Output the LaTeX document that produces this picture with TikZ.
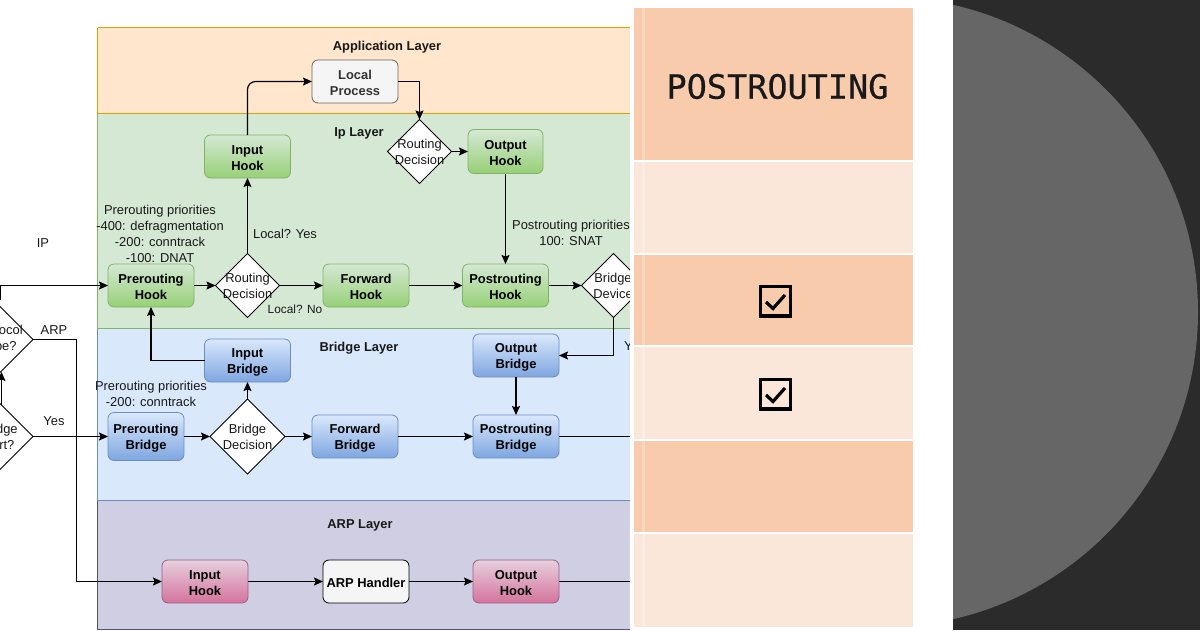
\documentclass[tikz,border=0pt]{standalone}
\usepackage{fontspec}
\setmainfont{Liberation Sans}
\newfontfamily\panelmono[FakeBold=0.4]{DejaVu Sans Mono}
\usetikzlibrary{arrows.meta,shapes.geometric}
\newcommand{\tp}{\rule{0pt}{12.5pt}}
\definecolor{rowdark}{HTML}{F8CBAD}
\definecolor{rowlight}{HTML}{FBE6DA}
\definecolor{apfill}{HTML}{FFE6CC}\definecolor{apline}{HTML}{E0A000}
\definecolor{ipfill}{HTML}{D5E8D4}\definecolor{ipline}{HTML}{82B366}
\definecolor{brfill}{HTML}{DAE8FC}\definecolor{brline}{HTML}{6C8EBF}
\definecolor{arfill}{HTML}{D0CEE2}\definecolor{arline}{HTML}{56517E}
\definecolor{greenend}{HTML}{97D077}
\definecolor{blueend}{HTML}{7EA6E0}
\definecolor{pinktop}{HTML}{E6D0DE}\definecolor{pinkend}{HTML}{D5739D}\definecolor{pinkline}{HTML}{996185}
\definecolor{plainfill}{HTML}{F5F5F5}\definecolor{plainline}{HTML}{666666}\definecolor{plaintext}{HTML}{333333}
\definecolor{darkbg}{HTML}{2B2B2B}\definecolor{discgrey}{HTML}{666666}
\tikzset{
  layerbox/.style={line width=1pt},
  boxbase/.style={rectangle,rounded corners=6pt,line width=0.8pt,align=center,inner sep=0pt,outer sep=0pt,
     font=\fontsize{12.9}{16}\selectfont\bfseries,minimum width=86pt,minimum height=43pt},
  greenbox/.style={boxbase,draw=ipline,top color=ipfill,bottom color=greenend},
  bluebox/.style={boxbase,draw=brline,top color=brfill,bottom color=blueend},
  pinkbox/.style={boxbase,draw=pinkline,top color=pinktop,bottom color=pinkend},
  plainbox/.style={boxbase,fill=plainfill},
  decide/.style={diamond,aspect=1,draw=black,fill=white,line width=0.8pt,inner sep=0pt,outer sep=0pt,minimum width=#1,minimum height=#1},
  decide/.default=64pt,
  words/.style={align=center,inner sep=0pt,font=\fontsize{12.9}{16}\selectfont,text=black!90},
  headword/.style={words,font=\fontsize{12.9}{16}\selectfont\bfseries},
  link/.style={draw=black,line width=1.2pt,-{Stealth[length=9pt,width=8pt,inset=1.5pt]}},
  linkplain/.style={draw=black,line width=1.2pt},
  tick/.style={draw=black,line width=3.8pt},
}
\begin{document}
\begin{tikzpicture}[x=1pt,y=-1pt]
\useasboundingbox (0,0) rectangle (1200,630);
\clip (0,0) rectangle (1200,630);
\fill[white] (0,0) rectangle (1200,630);
% layers
\fill[apfill] (97.5,27.5) rectangle (660,113.5);
\fill[ipfill] (97.5,113.5) rectangle (660,328.5);
\fill[brfill] (97.5,328.5) rectangle (660,500.5);
\fill[arfill] (97.5,500.5) rectangle (660,629.5);
\draw[arline,layerbox] (97.5,500.5) rectangle (660,629.5);
\draw[brline,layerbox] (97.5,328.5) rectangle (660,500.5);
\draw[ipline,layerbox] (97.5,113.5) rectangle (660,328.5);
\draw[apline,layerbox] (97.5,27.5) -- (660,27.5);
\draw[apline,layerbox] (97.5,27.5) -- (97.5,113.5);
\draw[apline,layerbox] (97.5,113.5) -- (660,113.5);
\node[headword] (tapp) at (387,47) {Application Layer};
\node[headword] (tip) at (359,133) {Ip Layer};
\node[headword] (tbr) at (359,348) {Bridge Layer};
\node[headword] (tarp) at (360,525) {ARP Layer};
% boxes
\node[plainbox,draw=plainline,text=plaintext] (local) at (355,81.5) {\tp Local\\Process};
\node[greenbox] (inhook) at (247.5,156.5) {\tp Input\\Hook};
\node[decide] (rd2) at (419.5,151.5) {};
\node[greenbox,minimum width=75pt,minimum height=44pt] (outhook) at (505.5,151.5) {\tp Output\\Hook};
\node[greenbox] (prehook) at (151,285.5) {\tp Prerouting\\Hook};
\node[decide] (rd1) at (247.5,285.5) {};
\node[greenbox] (fwdhook) at (366,285.5) {\tp Forward\\Hook};
\node[greenbox] (posthook) at (505.5,285.5) {\tp Postrouting\\Hook};
\node[decide] (bdev) at (613.5,285.5) {};
\node[bluebox] (inbr) at (247.5,360.5) {\tp Input\\Bridge};
\node[bluebox] (outbr) at (516,355.5) {\tp Output\\Bridge};
\node[bluebox,minimum width=76pt,minimum height=48pt] (prebr) at (146,436.5) {\tp Prerouting\\Bridge};
\node[decide=75pt] (bd) at (247.5,436.5) {};
\node[bluebox] (fwdbr) at (355,436.5) {\tp Forward\\Bridge};
\node[bluebox] (postbr) at (516,436.5) {\tp Postrouting\\Bridge};
\node[pinkbox] (inarp) at (205,581.5) {\tp Input\\Hook};
\node[plainbox,draw=black] (arph) at (366,581.5) {\tp ARP Handler};
\node[pinkbox] (outarp) at (516,581.5) {\tp Output\\Hook};
\node[decide=76pt] (proto) at (-5,339.5) {};
\node[decide=76pt] (bport) at (-5,436.5) {};
% free ends
\coordinate (ipstart) at (0.5,300);
\coordinate (ipturn) at (0.5,285.5);
\coordinate (arpA) at (76.5,339.5);
\coordinate (arpB) at (76.5,581.5);
\coordinate (upfrom) at (1.5,405);
\coordinate (upto) at (1.5,372);
\coordinate (rightA) at (640,436.5);
\coordinate (rightB) at (640,581.5);
% connectors
\draw[link] (ipstart) -- (ipturn) -- (prehook.west |- ipturn);
\draw[link] (proto.east) -- (arpA) -- (arpB) -- (inarp.west);
\draw[link] (upfrom) -- (upto);
\draw[link] (bport.east) -- (prebr.west);
\draw[link,rounded corners=8pt] (inhook.north) -- (inhook.north |- local.west) -- (local.west);
\draw[link] (local.east) -- (rd2.north |- local.east) -- (rd2.north);
\draw[link] (rd2.east) -- (outhook.west);
\draw[link] (outhook.south) -- (outhook.south |- posthook.north);
\draw[link] (prehook.east) -- (rd1.west);
\draw[link] (rd1.north) -- (rd1.north |- inhook.south);
\draw[link] (rd1.east) -- (fwdhook.west);
\draw[link] (fwdhook.east) -- (posthook.west);
\draw[link] (posthook.east) -- (bdev.west);
\draw[link] (bdev.south) -- (bdev.south |- outbr.east) -- (outbr.east);
\draw[link] (inbr.west) -- (inbr.west -| prehook.south) -- (prehook.south);
\draw[link] (bd.north) -- (bd.north |- inbr.south);
\draw[link] (prebr.east) -- (bd.west);
\draw[link] (bd.east) -- (fwdbr.west);
\draw[link] (fwdbr.east) -- (postbr.west);
\draw[link] (outbr.south) -- (postbr.north);
\draw[linkplain] (postbr.east) -- (rightA);
\draw[link] (inarp.east) -- (arph.west);
\draw[link] (arph.east) -- (outarp.west);
\draw[linkplain] (outarp.east) -- (rightB);
% diamond words
\node[words] (trd2) at (419.5,152) {Routing\\Decision};
\node[words] (trd1) at (247.5,285.5) {Routing\\Decision};
\node[words] (tbdev) at (613,285.5) {Bridge\\Device};
\node[words] (tbd) at (247.5,436.5) {Bridge\\Decision};
\node[words] (tproto) at (-1,339.5) {Protocol\\Type?};
\node[words] (tbport) at (-1,436.5) {Bridge\\Port?};
% labels
\node[words] (tipl) at (43,243.5) {IP};
\node[words] (tarpl) at (54,330.5) {ARP};
\node[words] (tyes) at (54,421.5) {Yes};
\node[words] (tlocy) at (285,233.5) {Local? Yes};
\node[words,font=\fontsize{11.9}{14}\selectfont] (tlocn) at (295,309) {Local? No};
\node[words] (tprio1) at (160,233.5) {Prerouting priorities\\-400: defragmentation\\-200: conntrack\\-100: DNAT};
\node[words] (tprio2) at (151,393.5) {Prerouting priorities\\-200: conntrack};
\node[words] (tprio3) at (571,232.5) {Postrouting priorities\\100: SNAT};
\node[words,anchor=west] (tyesr) at (624,346.5) {Yes};
% right panel
\fill[white] (630,0) rectangle (953,630);
\fill[rowdark] (634,8) rectangle (913,160);
\fill[rowlight] (634,162) rectangle (913,253);
\fill[rowdark] (634,255) rectangle (913,345);
\fill[rowlight] (634,347) rectangle (913,439);
\fill[rowdark] (634,441) rectangle (913,532);
\fill[rowlight] (634,534) rectangle (913,627);
\fill[white,opacity=0.25] (642,8) rectangle (645,627);
\node[inner sep=0pt,font={\panelmono\fontsize{33.5}{36}\selectfont},text=black!90] (tpost) at (777.5,86.5) {POSTROUTING};
% check boxes
\draw[tick] (760.5,286.5) rectangle (790.5,316);
\draw[tick,line width=3.2pt,line join=miter] (766,302) -- (773,308.5) -- (785,295);
\draw[tick] (760.5,379.5) rectangle (790.5,409);
\draw[tick,line width=3.2pt,line join=miter] (766,395) -- (773,401.5) -- (785,388);
% dark disc
\fill[darkbg] (953,0) rectangle (1200,630);
\begin{scope}
\clip (953,0) rectangle (1200,630);
\fill[discgrey] (883,312) circle (315);
\end{scope}
\end{tikzpicture}
\end{document}
